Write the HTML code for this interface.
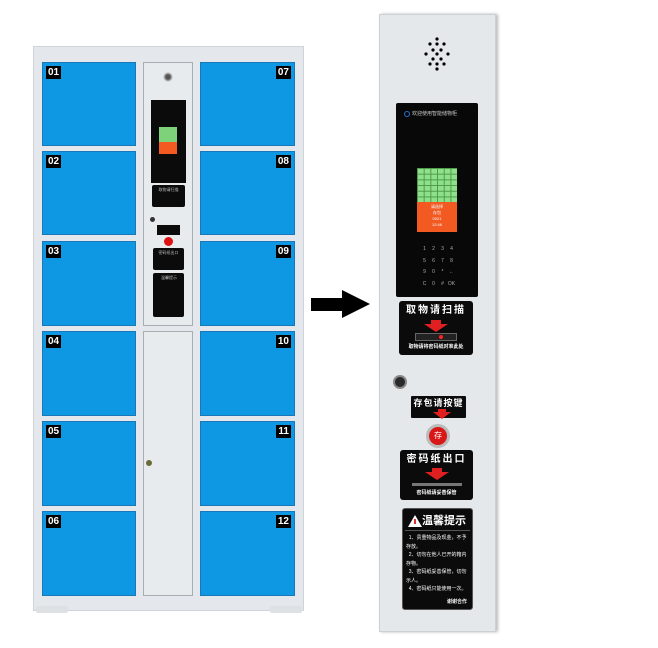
<!DOCTYPE html>
<html><head><meta charset="utf-8"><style>
body{margin:0;width:658px;height:648px;background:#fff;position:relative;overflow:hidden;font-family:"Liberation Sans","Noto Sans CJK SC",sans-serif}
div{position:absolute;box-sizing:border-box}
.d{background:#0e97e3;border:1px solid #1a78b8}
.n{background:#000;color:#fff;font-weight:bold;font-size:10px;line-height:13px;padding:0 2px;top:3px}
.bk{background:#0b0b0b;border-radius:3px;color:#fff;text-align:center;font-weight:bold}
.k{position:static;display:inline-block;width:9px;text-align:center}
</style></head><body>
<div style="left:33px;top:46px;width:271px;height:565px;background:#e4e8ec;border:1px solid #d0d4d8"></div>
<div style="left:36px;top:606px;width:32px;height:7px;background:#dde1e4;border-radius:2px"></div>
<div style="left:270px;top:606px;width:32px;height:7px;background:#dde1e4;border-radius:2px"></div>
<div class="d" style="left:42px;top:62px;width:94px;height:84px"><div class="n" style="left:3px">01</div></div>
<div class="d" style="left:42px;top:151px;width:94px;height:84px"><div class="n" style="left:3px">02</div></div>
<div class="d" style="left:42px;top:241px;width:94px;height:85px"><div class="n" style="left:3px">03</div></div>
<div class="d" style="left:42px;top:331px;width:94px;height:85px"><div class="n" style="left:3px">04</div></div>
<div class="d" style="left:42px;top:421px;width:94px;height:85px"><div class="n" style="left:3px">05</div></div>
<div class="d" style="left:42px;top:511px;width:94px;height:85px"><div class="n" style="left:3px">06</div></div>
<div class="d" style="left:200px;top:62px;width:95px;height:84px"><div class="n" style="right:3px">07</div></div>
<div class="d" style="left:200px;top:151px;width:95px;height:84px"><div class="n" style="right:3px">08</div></div>
<div class="d" style="left:200px;top:241px;width:95px;height:85px"><div class="n" style="right:3px">09</div></div>
<div class="d" style="left:200px;top:331px;width:95px;height:85px"><div class="n" style="right:3px">10</div></div>
<div class="d" style="left:200px;top:421px;width:95px;height:85px"><div class="n" style="right:3px">11</div></div>
<div class="d" style="left:200px;top:511px;width:95px;height:85px"><div class="n" style="right:3px">12</div></div>
<div style="left:143px;top:62px;width:50px;height:264px;border:1px solid #a8adb2;background:#e8ebee"></div>
<div style="left:143px;top:331px;width:50px;height:265px;border:1px solid #a8adb2;background:#e8ebee"></div>
<div style="left:146px;top:460px;width:6px;height:6px;border-radius:50%;background:#6a6a3a"></div>
<div style="left:163px;top:72px;width:10px;height:10px;border-radius:50%;background:radial-gradient(#555 30%,transparent 70%)"></div>
<div style="left:151px;top:100px;width:35px;height:83px;background:#0b0b0b"></div>
<div style="left:159px;top:127px;width:18px;height:15px;background:#7ed37a"></div>
<div style="left:159px;top:142px;width:18px;height:12px;background:#f25a22"></div>
<div style="left:152px;top:185px;width:33px;height:22px;background:#0b0b0b;border-radius:2px;color:#bbb;font-size:4px;text-align:center;padding-top:2px">取物请扫描</div>
<div style="left:150px;top:217px;width:5px;height:5px;border-radius:50%;background:#333"></div>
<div style="left:157px;top:225px;width:23px;height:10px;background:#0b0b0b"></div>
<div style="left:164px;top:237px;width:9px;height:9px;border-radius:50%;background:#d11"></div>
<div style="left:153px;top:248px;width:31px;height:22px;background:#0b0b0b;border-radius:2px;color:#bbb;font-size:4px;text-align:center;padding-top:2px">密码纸出口</div>
<div style="left:153px;top:273px;width:31px;height:44px;background:#0b0b0b;border-radius:2px;color:#bbb;font-size:4px;padding:2px 0 0 8px">温馨提示</div>
<svg style="position:absolute;left:0;top:0" width="658" height="648"><polygon points="311,298 342,298 342,290 370,304 342,318 342,311 311,311" fill="#000"/></svg>
<div style="left:379px;top:14px;width:117px;height:618px;background:#e4e8eb;border:1px solid #ccd0d4;box-shadow:2px 0 3px #bbb"></div>
<svg style="position:absolute;left:420px;top:36px" width="40" height="40"><g fill="#000">
<circle cx="17" cy="3" r="1.6"/><circle cx="10" cy="8" r="1.6"/><circle cx="17" cy="8" r="1.6"/><circle cx="24" cy="8" r="1.6"/>
<circle cx="13" cy="14" r="1.6"/><circle cx="21" cy="14" r="1.6"/><circle cx="6" cy="18" r="1.6"/><circle cx="17" cy="18" r="1.6"/><circle cx="28" cy="18" r="1.6"/>
<circle cx="13" cy="23" r="1.6"/><circle cx="21" cy="23" r="1.6"/><circle cx="10" cy="28" r="1.6"/><circle cx="17" cy="28" r="1.6"/><circle cx="24" cy="28" r="1.6"/><circle cx="17" cy="33" r="1.6"/></g></svg>
<div style="left:396px;top:103px;width:82px;height:194px;background:#080808;border-radius:2px"></div>
<div style="left:404px;top:111px;width:6px;height:6px;border-radius:50%;border:1.5px solid #2a6fd0"></div>
<div style="left:412px;top:110px;color:#ccc;font-size:5px;line-height:8px;white-space:nowrap">欢迎使用智能储物柜</div>
<div style="left:417px;top:168px;width:40px;height:34px;background:#8fe08a;background-image:linear-gradient(#4c9a48 1px,transparent 1px),linear-gradient(90deg,#4c9a48 1px,transparent 1px);background-size:6.7px 5.7px"></div>
<div style="left:417px;top:202px;width:40px;height:30px;background:#f25a22;color:#fff;font-size:4px;line-height:6px;text-align:center;padding-top:2px">请选择<br>存包<br>0021<br>12:46</div>
<div style="left:420px;top:244px;width:40px;height:46px;color:#aaa;font-size:5px;line-height:11.5px;white-space:nowrap"><span class="k">1</span><span class="k">2</span><span class="k">3</span><span class="k">4</span><br><span class="k">5</span><span class="k">6</span><span class="k">7</span><span class="k">8</span><br><span class="k">9</span><span class="k">0</span><span class="k">*</span><span class="k">←</span><br><span class="k">C</span><span class="k">0</span><span class="k">#</span><span class="k">OK</span></div>
<div class="bk" style="left:399px;top:301px;width:74px;height:54px"><div style="left:0;width:74px;top:4px;font-size:10px;line-height:12px;letter-spacing:2px">取物请扫描</div>
<svg style="position:absolute;left:24px;top:19px" width="26" height="12"><polygon points="8,0 18,0 18,4 25,4 13,12 1,4 8,4" fill="#e02020"/></svg>
<div style="left:16px;top:32px;width:42px;height:8px;border:1px solid #666;background:#222"></div><div style="left:40px;top:34px;width:4px;height:4px;border-radius:50%;background:#f22"></div>
<div style="left:0;width:74px;top:43px;font-size:5px;line-height:7px">取物请将密码纸对准此处</div></div>
<div style="left:393px;top:375px;width:14px;height:14px;border-radius:50%;background:#2a2a2a;border:2px solid #888"></div>
<div class="bk" style="left:411px;top:396px;width:55px;height:22px;border-radius:1px;font-size:9px;letter-spacing:1px;line-height:14px">存包请按键</div>
<svg style="position:absolute;left:432px;top:409px" width="20" height="10"><polygon points="6,0 14,0 14,3 19,3 10,10 1,3 6,3" fill="#e02020"/></svg>
<div style="left:426px;top:424px;width:24px;height:24px;border-radius:50%;background:#d81818;border:3px solid #bbb;color:#fff;font-size:8px;line-height:18px;text-align:center">存</div>
<div class="bk" style="left:400px;top:450px;width:73px;height:50px"><div style="left:0;width:73px;top:4px;font-size:10px;line-height:12px;letter-spacing:2px">密码纸出口</div>
<svg style="position:absolute;left:24px;top:18px" width="26" height="12"><polygon points="8,0 18,0 18,4 25,4 13,12 1,4 8,4" fill="#e02020"/></svg>
<div style="left:12px;top:33px;width:50px;height:3px;background:#777"></div>
<div style="left:0;width:73px;top:40px;font-size:5px;line-height:7px">密码纸请妥善保管</div></div>
<div class="bk" style="left:402px;top:508px;width:71px;height:102px;border:1px solid #555"><div style="left:2px;top:2px;width:65px;height:20px;border-bottom:1px solid #555;font-size:11px;line-height:20px;text-align:right;padding-right:4px">温馨提示</div>
<svg style="position:absolute;left:5px;top:6px" width="14" height="12"><polygon points="7,0 14,12 0,12" fill="#fff"/><rect x="6.2" y="4" width="1.6" height="5" fill="#d00"/></svg>
<div style="left:3px;top:25px;width:65px;font-size:5px;line-height:8.5px;text-align:left;font-weight:normal">&nbsp;&nbsp;1、贵重物品及现金，不予存放。<br>&nbsp;&nbsp;2、切勿在他人已开的箱内存物。<br>&nbsp;&nbsp;3、密码纸妥善保管，切勿示人。<br>&nbsp;&nbsp;4、密码纸只能使用一次。</div>
<div style="right:5px;top:90px;font-size:5px;line-height:7px">谢谢合作</div></div>
</body></html>
